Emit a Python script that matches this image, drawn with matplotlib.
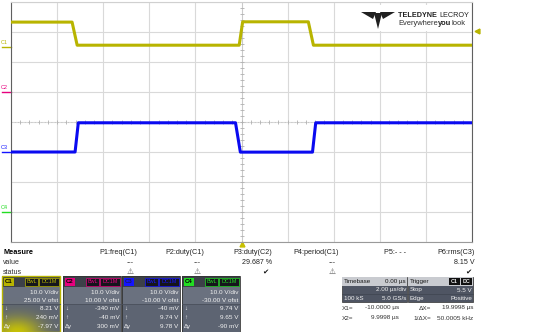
import numpy as np
import matplotlib
matplotlib.use("Agg")
import matplotlib.pyplot as plt
from matplotlib.patches import Rectangle, Polygon

plt.rcParams['font.family'] = ['Liberation Sans', 'DejaVu Sans']

# waveform breakpoints (time in us, level in V)
t_c1 = [-10.0, -7.35, -7.13, -0.10, 0.05, 2.90, 3.12, 10.0]
v_c1 = [8.3, 8.3, 0.6, 0.6, 8.4, 8.4, 0.6, 0.6]
t_c3 = [-10.0, -7.22, -7.08, -0.26, -0.05, 3.08, 3.22, 10.0]
v_c3 = [0.0, 0.0, 9.74, 9.74, -0.04, -0.04, 9.74, 9.74]

# channel settings
ch_names = ["C1", "C2", "C3", "C4"]
ch_colors = ["#b8b400", "#e6007e", "#1414ff", "#22dd22"]
vdiv = [10.0, 10.0, 10.0, 10.0]
offsets = [25.0, 10.0, -10.0, -30.0]
ch_down = ["8.21 V", "-340 mV", "-40 mV", "9.74 V"]
ch_up = ["240 mV", "-40 mV", "9.74 V", "9.65 V"]
ch_dy = ["-7.97 V", "300 mV", "9.78 V", "-90 mV"]
trig_level = 5.5

# measurements
meas_labels = ["P1:freq(C1)", "P2:duty(C1)", "P3:duty(C2)",
               "P4:period(C1)", "P5:- - -", "P6:rms(C3)"]
meas_values = ["---", "---", "29.687 %", "---", "", "8.15 V"]
meas_status = ["warn", "warn", "ok", "warn", "", "ok"]


def to_div(v, ch):
    return (np.asarray(v) + offsets[ch]) / vdiv[ch]


W, H = 534, 332
fig = plt.figure(figsize=(W / 100, H / 100), dpi=100)
fig.patch.set_facecolor("white")
renderer = fig.canvas.get_renderer()

# scope grid
ax = fig.add_axes([11 / W, 90 / H, 461 / W, 240 / H])
ax.set_xlim(-10, 10)
ax.set_ylim(-4, 4)
ax.set_xticks(np.arange(-10, 11, 2))
ax.set_yticks(np.arange(-4, 5, 1))
ax.grid(color="#d9d9d9", lw=0.8)
ax.tick_params(length=0, labelbottom=False, labelleft=False)
ax.spines["left"].set_color("#606060")
ax.spines["right"].set_color("#606060")
ax.spines["top"].set_color("#d0d0d0")
ax.spines["bottom"].set_color("#9a9a9a")
for s in ax.spines.values():
    s.set_linewidth(0.8)

# center axes with small ticks
ax.axhline(0, color="#bdbdbd", lw=0.6, ls=(0, (1, 3)))
ax.axvline(0, color="#c8c8c8", lw=0.6)
tx = np.arange(-10, 10.01, 0.4)
ax.plot(tx, np.zeros_like(tx), ls="none", marker="|", ms=2.5, mew=0.6, color="#b0b0b0")
ty = np.arange(-4, 4.01, 0.2)
ax.plot(np.zeros_like(ty), ty, ls="none", marker="_", ms=2.5, mew=0.6, color="#b0b0b0")

# traces
ax.plot(t_c1, to_div(v_c1, 0), color=ch_colors[0], lw=2.2, zorder=5)
ax.plot(t_c3, to_div(v_c3, 2), color="#0a0af0", lw=2.2, zorder=5)

# channel ground markers on left
for i, name in enumerate(ch_names):
    y0 = offsets[i] / vdiv[i]
    ax.plot([-10.4, -10.0], [y0, y0], color=ch_colors[i], lw=1.0, clip_on=False)
    ax.text(-10.45, y0 + 0.08, name, color=ch_colors[i], fontsize=4.0,
            ha="left", va="bottom", clip_on=False)

# trigger markers
ax.plot(10.2, to_div(trig_level, 0), marker="<", ms=3.5, color=ch_colors[0],
        clip_on=False)
ax.plot(0, -4.06, marker="^", ms=3.5, color="#c8c000", clip_on=False)

# overlay in pixel coordinates
ov = fig.add_axes([0, 0, 1, 1])
ov.axis("off")
ov.patch.set_alpha(0)


def box(x0, y0, x1, y1, fc, ec="none", lw=0.0):
    ov.add_patch(Rectangle((x0, y0), x1 - x0, y1 - y0, fc=fc, ec=ec, lw=lw))


def txt(x, y, s, ha="left", size=4.5, color="black", weight="normal"):
    return ov.text(x, y, s, ha=ha, va="center", fontsize=size, color=color,
                   fontweight=weight)


def seq(x, y, parts):
    # place text pieces one after another
    for s, size, color, weight in parts:
        t = txt(x, y, s, size=size, color=color, weight=weight)
        x += t.get_window_extent(renderer).width


# logo
box(357, 5, 471, 31, "white")
ov.add_patch(Polygon([(361, 12), (376, 12), (373, 19)], fc="#202020"))
ov.add_patch(Polygon([(380, 12), (395, 12), (383, 19)], fc="#202020"))
ov.add_patch(Polygon([(374, 13), (382, 13), (378, 29)], fc="#202020"))
seq(398, 15.5, [("TELEDYNE ", 5.2, "#202020", "bold"),
                ("LECROY", 5.2, "#202020", "normal")])
seq(398, 23.5, [("Everywhere", 5.4, "#303030", "normal"),
                ("you", 5.4, "#202020", "bold"),
                ("look", 5.4, "#303030", "normal")])

# measure table
txt(3, 253, "Measure", size=5.3, weight="bold")
txt(3, 263, "value", size=5.0, color="#333333")
txt(3, 273, "status", size=5.0, color="#333333")
col_right = [137, 204, 272, 339, 406, 475]
for i, lab in enumerate(meas_labels):
    xr = col_right[i]
    txt(xr, 253, lab, ha="right", size=5.2, color="#222222")
    if meas_values[i] == "---":
        txt(xr - 7, 263, "---", ha="center", size=5.0, color="#333333")
    elif meas_values[i]:
        txt(xr, 263, meas_values[i], ha="right", size=5.1, color="#222222")
    if meas_status[i] == "warn":
        txt(xr - 7, 272.5, "\u26a0", ha="center", size=5.6, color="#505050")
    elif meas_status[i] == "ok":
        txt(xr - 7, 272.5, "\u2714", ha="center", size=5.4, color="#111111")

# channel boxes
box_x = [2, 63, 122, 182]
for i, name in enumerate(ch_names):
    x0 = box_x[i]
    x1 = x0 + 58
    col = ch_colors[i]
    box(x0, 276, x1, 332, "#6a717f")
    box(x0, 304, x1, 332, "#5d6472")
    box(x0, 276, x1, 287, "#3c4048")
    if i == 0:
        hh, ww = 44, 57
        yy, xx = np.mgrid[0:hh, 0:ww]
        wgt = np.exp(-((xx - 14) / 24.0) ** 2 - ((yy - hh) / 15.0) ** 2)
        img = np.zeros((hh, ww, 4))
        img[..., 0] = 0.80
        img[..., 1] = 0.78
        img[..., 2] = 0.0
        img[..., 3] = 0.95 * wgt
        ov.imshow(img, extent=(x0 + 1, x1 - 1, 332, 288), aspect="auto",
                  origin="upper", zorder=2)
        box(x0, 276, x1, 332, "none", ec=col, lw=1.0)
    else:
        box(x0, 276, x1, 332, "none", ec="#333333", lw=0.6)
    ov.plot([x0, x1], [304, 304], color="#4a505c", lw=0.6)
    # header tags
    box(x0 + 1.5, 277.5, x0 + 11.5, 285.5, col)
    txt(x0 + 2.5, 281.5, name, size=4.3,
        color="#1a1a60" if i == 2 else "black", weight="bold")
    box(x0 + 23, 277.5, x0 + 36, 285.5, "#15151c", ec=col, lw=0.5)
    txt(x0 + 29.5, 281.5, "BwL", ha="center", size=3.9, color=col)
    box(x0 + 37, 277.5, x0 + 57, 285.5, "#15151c", ec=col, lw=0.5)
    txt(x0 + 47, 281.5, "DC1M", ha="center", size=3.9, color=col)
    # settings
    txt(x1 - 1.5, 292, f"{vdiv[i]:.1f} V/div", ha="right", size=4.6, color="#f2f2f2")
    txt(x1 - 1.5, 300, f"{offsets[i]:.2f} V ofst", ha="right", size=4.6, color="#f2f2f2")
    txt(x0 + 2, 309, "\u2193", size=4.4, color="#f2f2f2")
    txt(x0 + 2, 317.5, "\u2191", size=4.4, color="#f2f2f2")
    txt(x0 + 2, 326.5, "\u0394y", size=4.4, color="#f2f2f2")
    txt(x1 - 1.5, 309, ch_down[i], ha="right", size=4.6, color="#f2f2f2")
    txt(x1 - 1.5, 317.5, ch_up[i], ha="right", size=4.6, color="#f2f2f2")
    txt(x1 - 1.5, 326.5, ch_dy[i], ha="right", size=4.6, color="#f2f2f2")

# timebase box
box(342, 277, 407, 302, "#4f5563", ec="#333333", lw=0.5)
box(342, 277, 407, 285.5, "#c9cbd0")
ov.plot([342, 407], [294, 294], color="#3f444f", lw=0.5)
txt(344, 281.3, "Timebase", size=4.5, color="#1a1a1a")
txt(406, 281.3, "0.00 \u00b5s", ha="right", size=4.5, color="#1a1a1a")
txt(406, 290, "2.00 \u00b5s/div", ha="right", size=4.5, color="#f2f2f2")
txt(344, 298.3, "100 kS", size=4.5, color="#f2f2f2")
txt(406, 298.3, "5.0 GS/s", ha="right", size=4.5, color="#f2f2f2")

# trigger box
box(408, 277, 473, 302, "#4f5563", ec="#333333", lw=0.5)
box(408, 277, 473, 285.5, "#c9cbd0")
ov.plot([408, 473], [294, 294], color="#3f444f", lw=0.5)
txt(410, 281.3, "Trigger", size=4.5, color="#1a1a1a")
box(449, 278, 460, 285, "#111111")
txt(454.5, 281.5, "C1", ha="center", size=3.9, color="#f0f0f0", weight="bold")
box(461, 278, 472, 285, "#111111")
txt(466.5, 281.5, "DC", ha="center", size=3.9, color="#f0f0f0", weight="bold")
txt(410, 290, "Stop", size=4.5, color="#f2f2f2")
txt(472, 290, "5.5 V", ha="right", size=4.5, color="#f2f2f2")
txt(410, 298.3, "Edge", size=4.5, color="#f2f2f2")
txt(472, 298.3, "Positive", ha="right", size=4.5, color="#f2f2f2")

# cursor readout
txt(342, 308, "X1=", size=4.6, color="#333333")
txt(399, 308, "-10.0000 \u00b5s", ha="right", size=4.6, color="#333333")
txt(419, 308, "\u0394X=", size=4.6, color="#333333")
txt(473, 308, "19.9998 \u00b5s", ha="right", size=4.6, color="#333333")
txt(342, 318, "X2=", size=4.6, color="#333333")
txt(399, 318, "9.9998 \u00b5s", ha="right", size=4.6, color="#333333")
txt(413, 318, "1/\u0394X=", size=4.6, color="#333333")
txt(473, 318, "50.0005 kHz", ha="right", size=4.6, color="#333333")

ov.set_xlim(0, W)
ov.set_ylim(H, 0)

fig.savefig("out.png", dpi=100)
